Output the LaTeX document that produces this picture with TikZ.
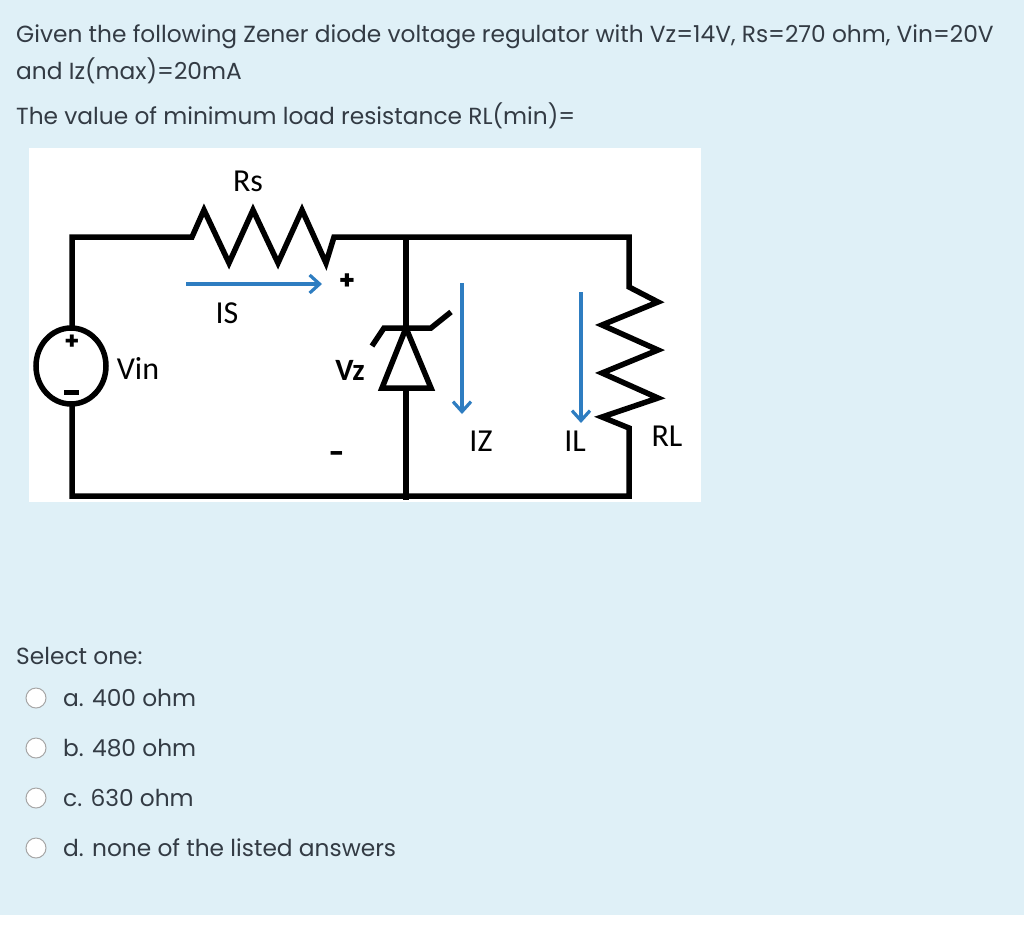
\documentclass[tikz,border=0pt]{standalone}
\usepackage{fontspec}
\setmainfont{Poppins}
\newfontfamily\carl{Carlito}
\usetikzlibrary{arrows.meta}
\definecolor{bgb}{HTML}{DFF0F7}
\definecolor{txt}{HTML}{333B44}
\definecolor{arr}{HTML}{2E7DC1}
\begin{document}
\begin{tikzpicture}[x=1pt,y=-1pt,
  q/.style={anchor=base west,text=txt,font=\fontsize{23.3}{26}\selectfont,inner sep=0pt},
  lab/.style={font=\carl\fontsize{32}{34}\selectfont,inner sep=0pt},
  w/.style={line width=5.5pt,line join=miter},
  ia/.style={arr,line width=3.2pt,-{Straight Barb[length=10pt,width=18pt,line width=3.2pt]}},
  rb/.style={draw=gray!70,fill=white,line width=1pt}]
\useasboundingbox (0,0) rectangle (1024,935);
\fill[bgb] (0,0) rectangle (1024,915);
\node[q] (t1) at (16,42) {Given the following Zener diode voltage regulator with Vz=14V, Rs=270 ohm, Vin=20V};
\node[q] (t2) at (16,79) {and Iz(max)=20mA};
\node[q] (t3) at (16,124) {The value of minimum load resistance RL(min)=};
\fill[white] (29,148) rectangle (701,502);
% wires
\draw[w] (72,327) -- (72,237) -- (192,237) -- (204,210) -- (229,263) -- (253,210) -- (278,263) -- (302,210) -- (326,263) -- (334,237) -- (629,237) -- (629,287)
 -- (658,302) -- (602,325) -- (658,350) -- (602,373) -- (658,398) -- (602,417) -- (629,428) -- (629,496) -- (72,496) -- (72,405);
\draw[w] (406,237) -- (406,500);
\draw[w,fill=white] (71,366) ellipse (35 and 38);
\node[font=\bfseries\fontsize{24}{24}\selectfont] (pl) at (72,342) {+};
\draw[line width=5pt] (64,392) -- (79,392);
% zener
\draw[w,fill=white] (406,328) -- (382,388) -- (431,388) -- cycle;
\draw[w] (372,346) -- (384,328) -- (431,328) -- (451,312);
% arrows
\coordinate (is1) at (186,284); \coordinate (is2) at (322,284);
\draw[ia] (is1) -- (is2);
\coordinate (iz1) at (462,283); \coordinate (iz2) at (462,414);
\draw[ia] (iz1) -- (iz2);
\coordinate (il1) at (581,292); \coordinate (il2) at (581,423);
\draw[ia] (il1) -- (il2);
% labels
\node[lab] (rs) at (248,181) {Rs};
\node[lab] (is) at (227,313) {IS};
\node[lab] (vin) at (138,368) {Vin};
\node[lab,font=\carl\bfseries\fontsize{31}{34}\selectfont] (vz) at (350,370) {Vz};
\node[lab,font=\bfseries\fontsize{26}{26}\selectfont] (p) at (347,282) {+};
\node[lab,font=\bfseries\fontsize{26}{26}\selectfont] (m) at (337,457) {-};
\node[lab] (iz) at (481,441) {IZ};
\node[lab] (il) at (575,441) {IL};
\node[lab] (rl) at (667,436) {RL};
% options
\node[q] (s) at (16,664) {Select one:};
\foreach \y/\t [count=\i] in {698/a. 400 ohm,748/b. 480 ohm,798/c. 630 ohm,848/d. none of the listed answers}{
  \draw[rb] (36,\y) circle (10);
  \node[q] (o\i) at (63,\y+8) {\t};
}
\end{tikzpicture}
\end{document}
